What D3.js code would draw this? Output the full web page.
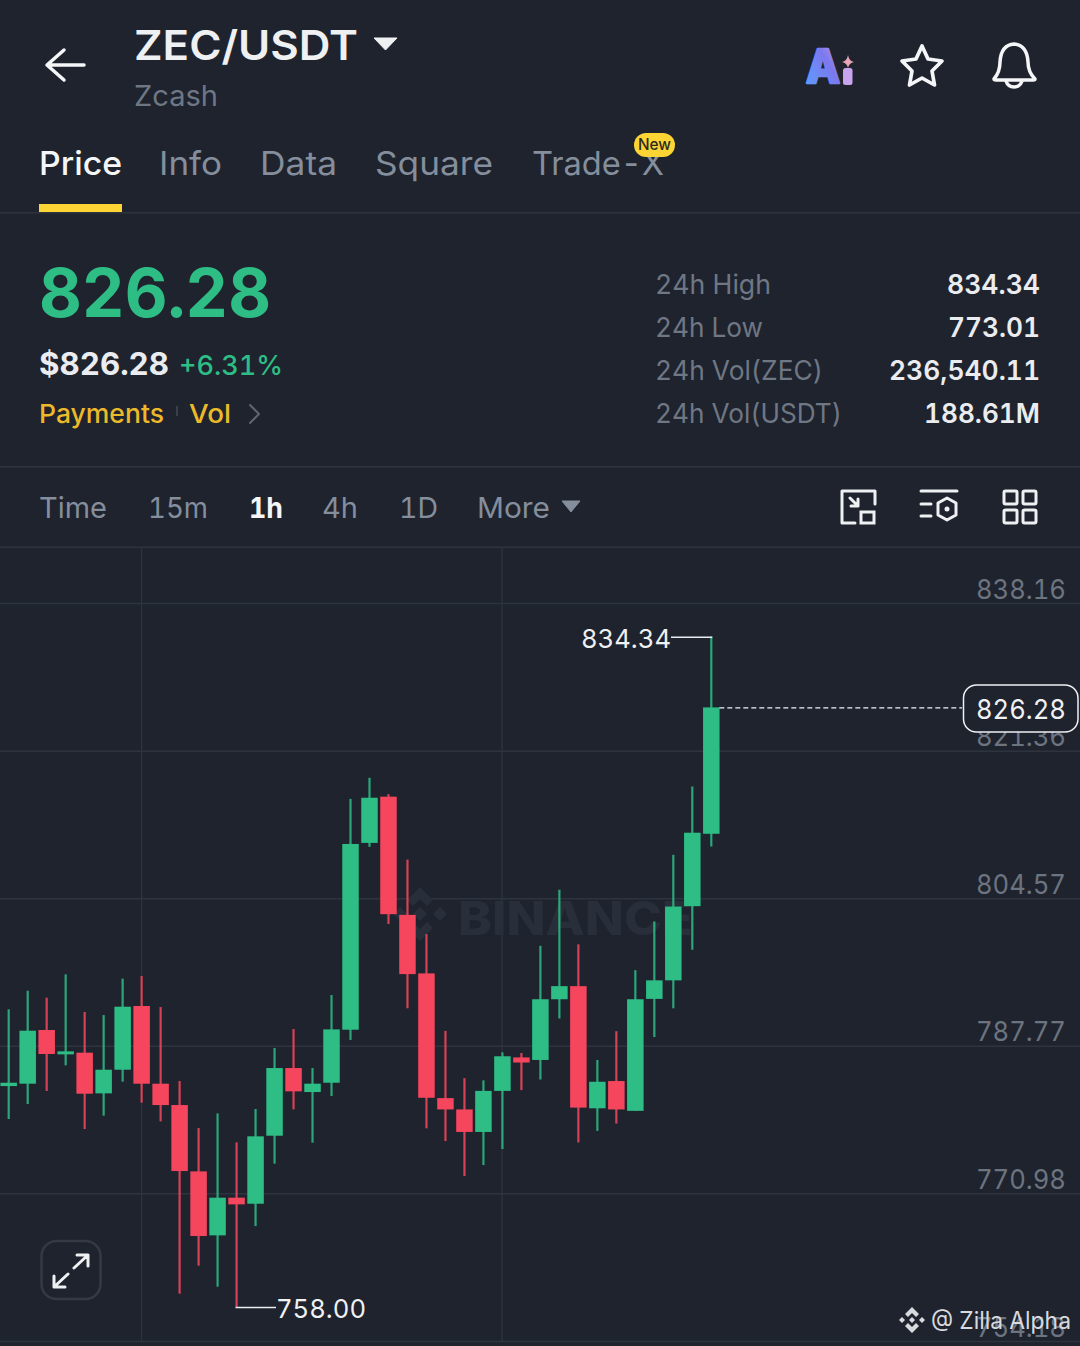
<!DOCTYPE html>
<html><head><meta charset="utf-8">
<style>html,body{margin:0;padding:0;background:#1e232e;overflow:hidden}svg{display:block}text{font-family:Inter,"Noto Sans",sans-serif;font-variant-numeric:tabular-nums}</style>
<script src="https://cdn.jsdelivr.net/npm/d3@7/dist/d3.min.js"></script>
</head><body><svg id="c" width="1080" height="1346"></svg>
<script>
const opens =[783.19,783.46,789.57,786.80,786.99,782.36,785.05,792.30,783.46,781.03,773.48,766.20,770.49,769.80,777.54,785.24,782.51,783.57,789.60,810.86,816.12,802.67,796.01,781.82,780.53,777.97,782.64,786.45,786.16,793.07,794.56,780.66,783.76,780.37,793.11,795.22,803.66,811.90];
const closes=[783.57,789.49,786.84,787.14,782.32,785.05,792.22,783.46,781.03,773.52,766.13,770.49,769.73,777.47,785.24,782.59,783.46,789.64,810.74,816.00,802.75,795.93,781.86,780.53,777.97,782.64,786.58,785.87,793.07,794.56,780.74,783.68,780.53,793.07,795.22,803.62,812.02,826.28];
const highs =[791.92,794.04,793.25,795.90,791.62,791.27,795.41,795.71,792.18,783.76,778.41,780.08,776.78,780.58,787.52,789.68,785.24,793.55,815.87,818.27,816.41,808.96,800.48,789.47,784.09,783.84,787.03,786.95,799.15,805.53,799.32,786.16,789.43,796.38,801.93,809.50,817.28,834.34];
const lows  =[779.44,781.15,782.63,785.55,778.30,779.82,783.69,781.30,779.17,759.56,762.75,760.36,758.00,767.26,774.36,780.54,776.75,782.06,788.44,810.41,801.64,792.04,778.38,776.93,772.96,774.20,776.02,782.73,783.93,790.88,776.77,778.09,778.92,780.37,788.77,792.04,798.70,810.45];
const priceTicks=[838.16,821.36,804.57,787.77,770.98,754.18];
const lastPrice=826.28, highPrice=834.34, lowPrice=758.00;
const tabs=["Price","Info","Data","Square","Trade-X"];
const frames=["Time","15m","1h","4h","1D","More"];
const statLabels=["24h High","24h Low","24h Vol(ZEC)","24h Vol(USDT)"];
const statValues=["834.34","773.01","236,540.11","188.61M"];

const GREEN="#2ebd85",RED="#f6465d",BG="#1e232e",GRID="#2e343f",GREY="#848e9c",WHITE="#eaecef",YEL="#fcd535",GOLD="#ecb92a";
const svg=d3.select("#c");
svg.append("rect").attr("width",1080).attr("height",1346).attr("fill",BG);

function T(s,x,y,size,fill,weight,w,anchor){
  const t=svg.append("text").attr("x",anchor?x:x-1).attr("y",y).attr("font-size",size).attr("fill",fill).attr("font-weight",weight||400).attr("text-anchor",anchor||"start").text(s);
  if(w) t.attr("textLength",w).attr("lengthAdjust","spacingAndGlyphs");
  return t;
}
function hline(y){svg.append("rect").attr("x",0).attr("y",y).attr("width",1080).attr("height",1.5).attr("fill",GRID);}
function icon(d,sw,c,fill){return svg.append("path").attr("d",d).attr("fill",fill||"none").attr("stroke",c||WHITE).attr("stroke-width",sw||3.5).attr("stroke-linecap","round").attr("stroke-linejoin","round");}

// Header
icon("M84 65H48M64 50L47 65L64 80",3.5,"#f5f6f7");
T("ZEC/USDT",135,60,41,"#eef0f2",600,224);
svg.append("path").attr("d","M374 38H397L385.5 50Z").attr("fill","#eef0f2").attr("stroke","#eef0f2").attr("stroke-width",1).attr("stroke-linejoin","round");
T("Zcash",135,106,29,"#6f7784",400,84);

const defs=svg.append("defs");
const g1=defs.append("linearGradient").attr("id","ai").attr("x1",0).attr("y1",1).attr("x2",1).attr("y2",0);
g1.append("stop").attr("offset",0).attr("stop-color","#5aa2ff");
g1.append("stop").attr("offset",.6).attr("stop-color","#7c78ee");
g1.append("stop").attr("offset",1).attr("stop-color","#c9a3ee");
T("A",807,83,47,"url(#ai)",800,34).attr("stroke","url(#ai)").attr("stroke-width",2.5).attr("stroke-linejoin","round");
svg.append("rect").attr("x",843).attr("y",68).attr("width",9.5).attr("height",17).attr("rx",2.5).attr("fill","#c8a4ee");
svg.append("path").attr("d","M848 55Q849 61 854 62Q849 63 848 68Q847 63 842 62Q847 61 848 55Z").attr("fill","#eaa6b8");
icon("M922 46L928 59L942 61L932 71L934.5 85L922 78L909.5 85L912 71L902 61L916 59Z",3.7,"#f5f6f7");
icon("M994 79Q1000 72 1000 62Q1001 45 1014 44Q1027 45 1028 62Q1028 72 1035 79Q1035 80 1033 80H996Q994 80 994 79ZM1006 81Q1008 87 1014 87Q1020 87 1022 81",3.5,"#f5f6f7");

// Tabs
const tabX=[40,160,261,376,533],tabW=[83,63,77,118,132];
tabs.forEach((s,i)=>T(s,tabX[i],175,33,i?GREY:"#f5f6f7",i?400:500,tabW[i]));
svg.append("rect").attr("x",634).attr("y",133).attr("width",41).attr("height",24).attr("rx",12).attr("fill",YEL);
T("New",654.5,150,16,"#2a2a20",500,33,"middle");
svg.append("rect").attr("x",39).attr("y",204).attr("width",83).attr("height",8).attr("fill",YEL);
hline(212);

// Price block
T("826.28",40,317,68,GREEN,700,232);
T("$826.28",40,375,31,WHITE,700,130);
T("+6.31%",180,375,27,GREEN,500,104);
T("Payments",40,423,26,GOLD,500,125);
svg.append("rect").attr("x",176).attr("y",406).attr("width",2).attr("height",10).attr("fill","#3a404b");
T("Vol",190,423,26,GOLD,500,42);
icon("M250 405L259 414L250 423",2,"#5e6673");
const lw=[116,108,168,187],vw=[93,92,151,116];
statLabels.forEach((s,i)=>{
  const b=294+i*43;
  T(s,656,b,27,"#6f7784",400,lw[i]);
  T(statValues[i],1040,b,27,WHITE,600,vw[i],"end");
});
hline(466);

// Timeframes
const fx=[40,149,250,323,400,478],fw=[68,60,34,36,39,73];
frames.forEach((s,i)=>T(s,fx[i],518,29,i==2?"#f5f6f7":GREY,i==2?700:400,fw[i]));
svg.append("path").attr("d","M562 501H580L571 512Z").attr("fill",GREY).attr("stroke",GREY).attr("stroke-linejoin","round");
icon("M842 491H875V504M855 523H842V491M850 498L858 506M858 499V506H851",3,"#eef0f2");
svg.append("rect").attr("x",861).attr("y",512).attr("width",13).attr("height",11).attr("fill","none").attr("stroke","#eef0f2").attr("stroke-width",3);
icon("M921 491H957M921 504H931M921 516H931M947 498L956 503V515L947 520L938 515V503Z",3,"#eef0f2");
svg.append("circle").attr("cx",947).attr("cy",509).attr("r",2.5).attr("fill","#eef0f2");
[[1004,491],[1023,491],[1004,510],[1023,510]].forEach(p=>svg.append("rect").attr("x",p[0]).attr("y",p[1]).attr("width",13).attr("height",13).attr("rx",1.5).attr("fill","none").attr("stroke","#eef0f2").attr("stroke-width",3));
hline(546.5);

// Chart
const idx=d3.range(opens.length);
const x=d3.scalePoint().domain(idx).range([8.7,711.3]);
const y=d3.scaleLinear().domain([838.16,754.18]).range([603,1341]);
const bodyW=16.5,wickW=2.2;

// vertical grid
[141.5,502].forEach(v=>svg.append("rect").attr("x",v-.6).attr("y",547).attr("width",1.3).attr("height",794).attr("fill",GRID));

// Axis with gridlines and labels
const axis=d3.axisRight(y).tickValues(priceTicks).tickFormat(d3.format(".2f")).tickSize(-1080).tickPadding(0);
const ag=svg.append("g").attr("transform","translate(1080,0)").call(axis);
ag.select(".domain").remove();
ag.selectAll(".tick line").attr("stroke",GRID).attr("stroke-width",1.5);
ag.selectAll(".tick text").attr("x",-14).attr("dy",0).attr("y",-5).attr("text-anchor","end").attr("font-family","Inter,'Noto Sans',sans-serif").attr("font-size",27).attr("fill","#6c7480").attr("textLength",90).attr("lengthAdjust","spacingAndGlyphs");

// Watermark
const wm="#282e3a";
svg.append("text").attr("x",458).attr("y",935).attr("font-size",47).attr("font-weight",800).attr("fill",wm).attr("textLength",235).attr("lengthAdjust","spacingAndGlyphs").text("BINANCE");
svg.append("g").attr("transform","translate(420,914)").selectAll("path").data([
 "M0 -27L13 -14L7 -8L0 -15L-7 -8L-13 -14Z","M0 27L13 14L7 8L0 15L-7 8L-13 14Z","M-27 0L-20 -7L-13 0L-20 7Z","M27 0L20 -7L13 0L20 7Z","M0 -7L7 0L0 7L-7 0Z"
]).join("path").attr("d",d=>d).attr("fill",wm);

// Candles
const cg=svg.append("g");
const candles=cg.selectAll("g").data(idx).join("g").attr("fill",i=>closes[i]>=opens[i]?GREEN:RED);
candles.append("rect").attr("x",i=>x(i)-wickW/2).attr("width",wickW).attr("y",i=>y(highs[i])).attr("height",i=>y(lows[i])-y(highs[i])).attr("opacity",.85);
candles.append("rect").attr("x",i=>x(i)-bodyW/2).attr("width",bodyW).attr("y",i=>y(Math.max(opens[i],closes[i]))).attr("height",i=>Math.max(3,Math.abs(y(opens[i])-y(closes[i]))));

// High / low labels
const iHigh=highs.indexOf(highPrice),iLow=lows.indexOf(lowPrice);
svg.append("line").attr("x1",671).attr("x2",x(iHigh)+1).attr("y1",y(highPrice)+.6).attr("y2",y(highPrice)+.6).attr("stroke",WHITE).attr("stroke-width",1.5);
T(d3.format(".2f")(highPrice),582,y(highPrice)+11,26,"#f0f1f3",400,90);
svg.append("line").attr("x1",x(iLow)-1).attr("x2",276).attr("y1",y(lowPrice)).attr("y2",y(lowPrice)).attr("stroke",WHITE).attr("stroke-width",1.5);
T(d3.format(".2f")(lowPrice),277,y(lowPrice)+11,26,"#f0f1f3",400,90);

// Last price
svg.append("line").attr("x1",x(idx.length-1)+8).attr("x2",962).attr("y1",y(lastPrice)+.5).attr("y2",y(lastPrice)+.5).attr("stroke","#f0f1f3").attr("stroke-width",1.4).attr("stroke-dasharray","5 3");
svg.append("rect").attr("x",963.5).attr("y",685).attr("width",114.5).attr("height",47).attr("rx",13).attr("fill",BG).attr("stroke","#f0f1f3").attr("stroke-width",1.5);
T(d3.format(".2f")(lastPrice),977,y(lastPrice)+12,27,"#f0f1f3",400,90);
ag.selectAll(".tick text").filter(d=>d===821.36).raise();

// Expand button
svg.append("rect").attr("x",41.5).attr("y",1241).attr("width",59).attr("height",58).attr("rx",15).attr("fill","none").attr("stroke","#343a45").attr("stroke-width",2.5);
icon("M74 1268L88 1255M77 1255H88V1266M68 1274L54 1287M54 1276V1287H65",3,"#eef0f2");

// Author watermark
svg.append("g").attr("transform","translate(912,1320)").selectAll("path").data([
 "M0 -13L7 -6L4 -3L0 -7L-4 -3L-7 -6Z","M0 13L7 6L4 3L0 7L-4 3L-7 6Z","M-13 0L-10 -3L-7 0L-10 3Z","M13 0L10 -3L7 0L10 3Z","M0 -3L3 0L0 3L-3 0Z"
]).join("path").attr("d",d=>d).attr("fill","#d8dadd");
T("@ Zilla Alpha",932,1329,24,"#d8dadd",400,140);
</script></body></html>
